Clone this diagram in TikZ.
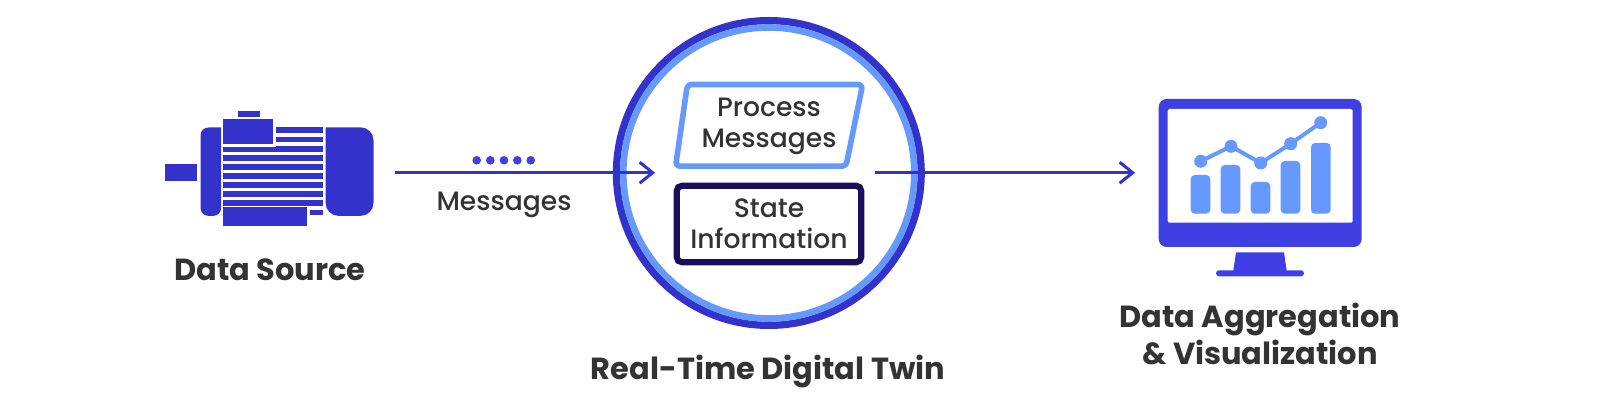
\documentclass[tikz,border=0pt]{standalone}
\usepackage{fontspec}
\setmainfont{Poppins}
\newfontfamily\medfont{Poppins Medium}
\usetikzlibrary{arrows.meta}
\definecolor{motorblue}{HTML}{3333CC}
\definecolor{monblue}{HTML}{3F3FE3}
\definecolor{lightblue}{HTML}{6699FF}
\definecolor{navy}{HTML}{1A0F5C}
\definecolor{txt}{HTML}{333333}
\tikzset{
  motor/.style={fill=motorblue,draw=none},
  monitor/.style={fill=monblue,draw=none},
  chart/.style={fill=lightblue,draw=none,rounded corners=4},
  flow/.style={draw=motorblue,line width=3pt,-{Straight Barb[length=13pt,width=21pt,line width=3pt]}},
  plainlabel/.style={text=txt,font=\medfont\fontsize{26.6}{30}\selectfont,align=center,inner sep=0pt,anchor=base},
  boldlabel/.style={text=txt,font=\fontsize{30.5}{36}\selectfont\bfseries,align=center,inner sep=0pt,anchor=base},
  msgdot/.style={circle,fill=monblue,minimum size=8.6pt,inner sep=0pt,draw=none},
  chartdot/.style={circle,fill=lightblue,minimum size=13pt,inner sep=0pt,draw=none},
}
\begin{document}
\begin{tikzpicture}[x=1pt,y=-1pt]
\useasboundingbox (0,0) rectangle (1600,403);
% motor
\fill[motor] (164.7,163.7) rectangle (197.3,181);
\fill[motor,rounded corners=8] (221.2,127.5) -- (200.5,127.5) -- (200.5,215.9) -- (221.2,215.9) [sharp corners] -- cycle;
\fill[motor,rounded corners=13] (325.6,127.3) -- (373.5,127.3) -- (373.5,215.9) -- (325.6,215.9) [sharp corners] -- cycle;
\fill[motor] (238,110.8) rectangle (260,116.9);
\fill[motor] (223.4,119.5) rectangle (273.3,144.2);
\fill[motor] (275.5,127.3) rectangle (323.4,133.1);
\fill[motor] (275.5,136.6) rectangle (323.4,142.4);
\fill[motor] (275.5,145.7) rectangle (323.4,151.6);
\fill[motor] (223.4,147) rectangle (275.7,151.6);
\foreach \a/\b in {154.8/160.6,163.8/169.7,172.9/178.7,182.2/188.1,191.3/197.1,200.4/206.2}
  \fill[motor] (223.4,\a) rectangle (323.4,\b);
\fill[motor] (309.8,209.8) rectangle (323.4,215.4);
\fill[motor] (223.4,206.7) rectangle (307.3,226.2);
% twin circle
\node (twin) at (768.8,173) [circle,draw=motorblue,line width=7.3pt,minimum size=304.7pt,inner sep=0pt] {};
\node at (twin.center) [circle,draw=lightblue,line width=6.6pt,minimum size=291pt,inner sep=0pt] {};
% inner boxes
\draw[lightblue,line width=5.6pt,rounded corners=4,line join=round] (687.4,84.5) -- (862.6,84.5) -- (846,166.2) -- (675.6,166.2) -- cycle;
\node (process) at (769,116.7) [plainlabel] {Process};
\node (procb) at (769,147.3) [plainlabel] {Messages};
\draw[navy,line width=6.2pt,rounded corners=5] (676.8,185.8) rectangle (861.2,262.2);
\node (state) at (769,217.3) [plainlabel] {State};
\node (info) at (769,248.3) [plainlabel] {Information};
% monitor
\fill[monitor,rounded corners=8] (1158.7,99) rectangle (1361.7,247);
\fill[white,rounded corners=2] (1167.7,109) rectangle (1352.7,222.7);
\fill[monitor] (1236,252.3) -- (1284,252.3) -- (1286.7,271) -- (1233.3,271) -- cycle;
\fill[monitor,rounded corners=3] (1216,270.3) rectangle (1304,276.3);
\fill[chart] (1190.7,175) rectangle (1210.3,213.7);
\fill[chart] (1220.7,165) rectangle (1240.3,213.7);
\fill[chart] (1250.7,182) rectangle (1270.3,213.7);
\fill[chart] (1280.7,161) rectangle (1300.3,213.7);
\fill[chart] (1311,143) rectangle (1330.7,213.7);
\node (p1) at (1200.7,161.3) [chartdot] {};
\node (p2) at (1231,146.3) [chartdot] {};
\node (p3) at (1260.7,163) [chartdot] {};
\node (p4) at (1290.7,143.7) [chartdot] {};
\node (p5) at (1320.7,122.7) [chartdot] {};
\draw[lightblue,line width=4pt] (p1.center) -- (p2.center) -- (p3.center) -- (p4.center) -- (p5.center);
% connectors
\coordinate (srcout) at (395.3,172.7);
\coordinate (twinin) at (655,172.7);
\coordinate (twinout) at (875,172.7);
\coordinate (monin) at (1135,172.7);
\draw[flow] (srcout) -- (twinin);
\draw[flow] (twinout) -- (monin);
\foreach \n/\x in {d1/476.7,d2/490.3,d3/504,d4/517.3,d5/530.7}
  \node (\n) at (\x,160.3) [msgdot] {};
% labels
\node (msg) at (504,211) [plainlabel] {Messages};
\node (src) at (270,280) [boldlabel] {Data Source};
\node (twl) at (768,379) [boldlabel] {Real-Time Digital Twin};
\node (ag1) at (1260,327.3) [boldlabel] {Data Aggregation};
\node (ag2) at (1260,364) [boldlabel] {\& Visualization};
\end{tikzpicture}
\end{document}
